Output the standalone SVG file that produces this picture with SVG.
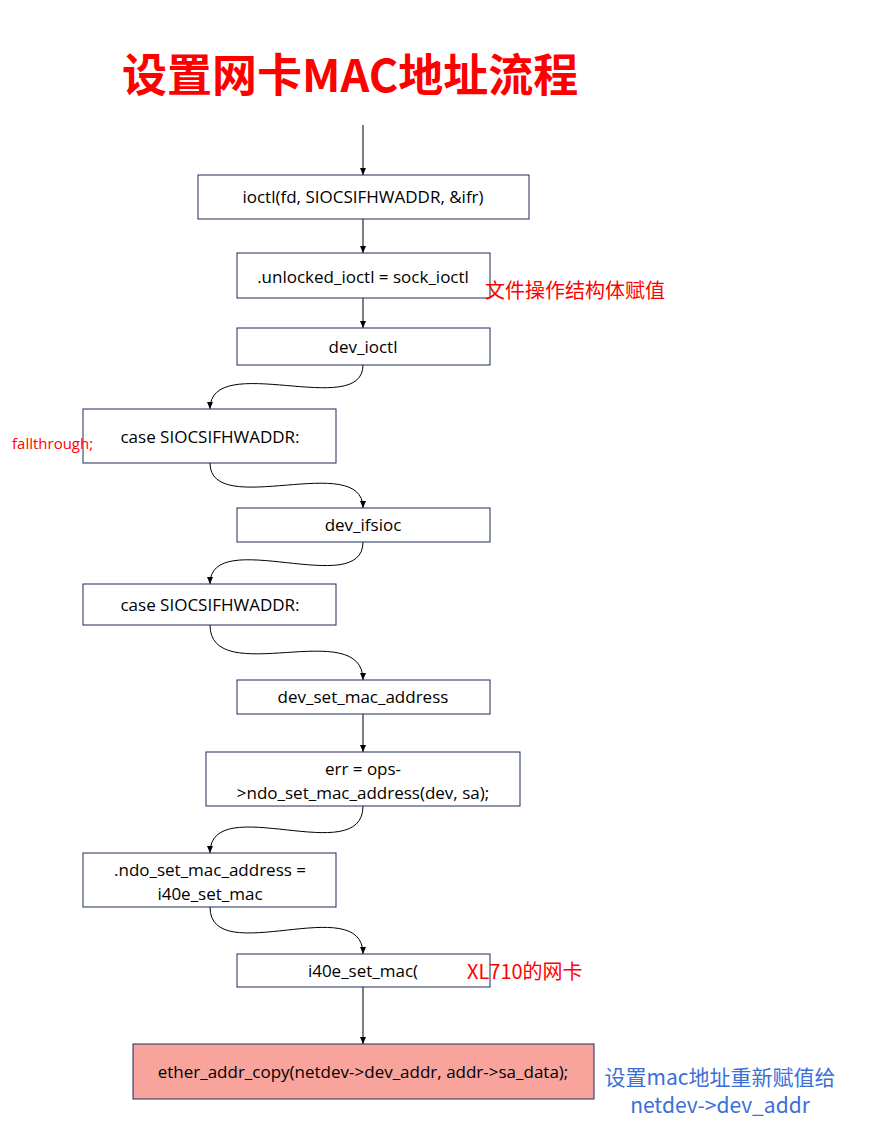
<svg xmlns="http://www.w3.org/2000/svg" width="870" height="1124" viewBox="0 0 870 1124">
<style>
.b{fill:#fff;stroke:#1f2a5a;stroke-width:1}
.t{font-family:"Open Sans","Noto Sans CJK SC",sans-serif;font-size:17px;fill:#000;text-anchor:middle}
.c{fill:none;stroke:#000;stroke-width:1}
</style>
<defs><marker id="a" markerWidth="8" markerHeight="8" refX="7" refY="4" orient="auto" markerUnits="userSpaceOnUse"><path d="M0,1 L7,4 L0,7 z" fill="#000"/></marker></defs>
<rect width="870" height="1124" fill="#fff"/>
<text x="122" y="92" font-family="'Noto Sans CJK SC',sans-serif" font-weight="bold" font-size="45" fill="#ff0000">设置网卡MAC地址流程</text>
<g id="connectors">
<path class="c" d="M363,125 V175" marker-end="url(#a)"/>
<path class="c" d="M363,219 V253" marker-end="url(#a)"/>
<path class="c" d="M363,298 V328" marker-end="url(#a)"/>
<path class="c" d="M363,365 C363,420 210,350 210,409" marker-end="url(#a)"/>
<path class="c" d="M210,463 C210,520 363,450 363,508" marker-end="url(#a)"/>
<path class="c" d="M363,542 C363,600 210,525 210,584" marker-end="url(#a)"/>
<path class="c" d="M210,625 C210,690 363,615 363,680" marker-end="url(#a)"/>
<path class="c" d="M363,714 V752" marker-end="url(#a)"/>
<path class="c" d="M363,806 C363,870 210,790 210,853" marker-end="url(#a)"/>
<path class="c" d="M210,907 C210,970 363,890 363,954" marker-end="url(#a)"/>
<path class="c" d="M363,987 V1044" marker-end="url(#a)"/>
</g>
<g id="n1"><rect class="b" x="198" y="175" width="331" height="44"/><text class="t" x="363" y="203">ioctl(fd, SIOCSIFHWADDR, &amp;ifr)</text></g>
<g id="n2"><rect class="b" x="237" y="253" width="253" height="45"/><text class="t" x="363" y="283">.unlocked_ioctl = sock_ioctl</text></g>
<text x="485" y="298" font-family="'Noto Sans CJK SC',sans-serif" font-size="20" fill="#ff0000">文件操作结构体赋值</text>
<g id="n3"><rect class="b" x="237" y="328" width="253" height="37"/><text class="t" x="363" y="353">dev_ioctl</text></g>
<g id="n4"><rect class="b" x="83" y="409" width="253" height="54"/><text class="t" x="210" y="443">case SIOCSIFHWADDR:</text></g>
<text x="12" y="449" font-family="'Open Sans',sans-serif" font-size="15" fill="#ff0000">fallthrough;</text>
<g id="n5"><rect class="b" x="237" y="508" width="253" height="34"/><text class="t" x="363" y="531">dev_ifsioc</text></g>
<g id="n6"><rect class="b" x="83" y="584" width="253" height="41"/><text class="t" x="210" y="611">case SIOCSIFHWADDR:</text></g>
<g id="n7"><rect class="b" x="237" y="680" width="253" height="34"/><text class="t" x="363" y="703">dev_set_mac_address</text></g>
<g id="n8"><rect class="b" x="206" y="752" width="314" height="54"/><text class="t" x="363" y="775">err = ops-</text><text class="t" x="363" y="799">&gt;ndo_set_mac_address(dev, sa);</text></g>
<g id="n9"><rect class="b" x="83" y="853" width="253" height="54"/><text class="t" x="210" y="876">.ndo_set_mac_address =</text><text class="t" x="210" y="900">i40e_set_mac</text></g>
<g id="n10"><rect class="b" x="237" y="954" width="253" height="33"/><text class="t" x="363" y="977">i40e_set_mac(</text></g>
<text x="467" y="979" font-family="'Noto Sans CJK SC',sans-serif" font-size="20" fill="#ff0000">XL710的网卡</text>
<g id="n11"><rect x="133" y="1044" width="461" height="55" fill="#f8a39c" stroke="#1f2a5a"/><text class="t" x="363" y="1078">ether_addr_copy(netdev-&gt;dev_addr, addr-&gt;sa_data);</text></g>
<text x="720" y="1085" text-anchor="middle" font-family="'Noto Sans CJK SC',sans-serif" font-size="21" fill="#3b6fd8">设置mac地址重新赋值给</text>
<text x="720" y="1113" text-anchor="middle" font-family="'Noto Sans CJK SC',sans-serif" font-size="21" fill="#3b6fd8">netdev-&gt;dev_addr</text>
</svg>
